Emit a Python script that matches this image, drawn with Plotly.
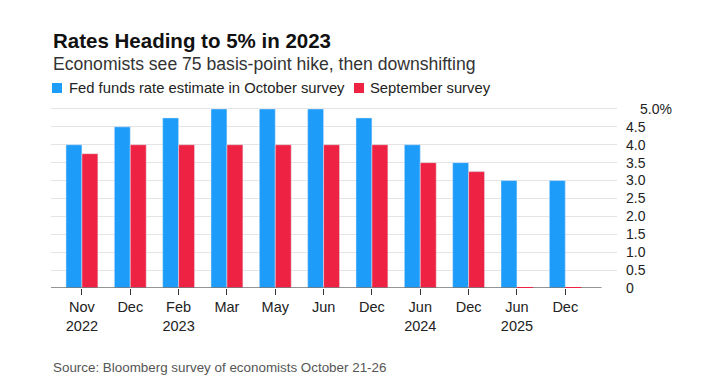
import plotly.graph_objects as go

categories = ["Nov 2022", "Dec 2022", "Feb 2023", "Mar 2023", "May 2023", "Jun 2023",
              "Dec 2023", "Jun 2024", "Dec 2024", "Jun 2025", "Dec 2025"]
tick_labels = ["Nov<br>2022", "Dec", "Feb<br>2023", "Mar", "May", "Jun", "Dec",
               "Jun<br>2024", "Dec", "Jun<br>2025", "Dec"]
october = [4.0, 4.5, 4.75, 5.0, 5.0, 5.0, 4.75, 4.0, 3.5, 3.0, 3.0]
september = [3.75, 4.0, 4.0, 4.0, 4.0, 4.0, 4.0, 3.5, 3.25, 0, 0]
y_ticks = [0, 0.5, 1.0, 1.5, 2.0, 2.5, 3.0, 3.5, 4.0, 4.5, 5.0]
y_ticktext = ["0", "0.5", "1.0", "1.5", "2.0", "2.5", "3.0", "3.5", "4.0", "4.5", ""]

BLUE = "#1E9CFA"
RED = "#EE2242"
FONT = "Liberation Sans, Arial, sans-serif"

OFF = 8  # page body margin
W, H = 702 - OFF, 391 - OFF
L = 51 - OFF
PR = 617 - OFF
T = 100 - OFF
PB = 288 - OFF
R = W - PR
B = H - PB
pw = PR - L
ph = PB - T

def px(x):
    return (x - OFF - L) / pw

def py(y):
    return (PB - (y - OFF)) / ph

idx = list(range(len(categories)))

fig = go.Figure()
fig.add_bar(x=idx, y=october, marker_color=BLUE, name="Fed funds rate estimate in October survey")
fig.add_bar(x=idx, y=september, marker_color=RED, name="September survey")

bargap = 0.34
bar_w = (1 - bargap) / 2

fig.add_shape(type="line", x0=-0.64, x1=len(categories) - 0.25, y0=0, y1=0,
              line=dict(color="#707070", width=1.5), layer="above")

for i, v in zip(idx, september):
    if v == 0:
        fig.add_shape(type="line", x0=i, x1=i + bar_w, y0=0, y1=0,
                      line=dict(color=RED, width=2), layer="above")

fig.update_layout(
    width=W, height=H,
    margin=dict(l=L, r=R, t=T, b=B),
    paper_bgcolor="white", plot_bgcolor="white",
    barmode="group", bargap=bargap, bargroupgap=0,
    showlegend=False,
    font=dict(family=FONT, size=14, color="#222222"),
)
fig.update_xaxes(
    range=[-0.64, 11.07], tickmode="array", tickvals=idx, ticktext=tick_labels,
    ticks="outside", ticklen=6, tickcolor="#333333", showgrid=False, showline=False,
    zeroline=False, tickfont=dict(size=14.5, color="#222222"),
)
fig.update_yaxes(
    range=[0, 5.25], side="right", tickvals=y_ticks, ticktext=y_ticktext,
    showgrid=True, gridcolor="#E4E4E4", gridwidth=1, zeroline=False, ticks="",
    ticklabelstandoff=8, tickfont=dict(size=14, color="#222222"),
)

ann = [
    dict(text="<b>Rates Heading to 5% in 2023</b>", x=px(51), y=py(40), size=20.5, color="#111111"),
    dict(text="Economists see 75 basis-point hike, then downshifting", x=px(51), y=py(64), size=17.6, color="#333333"),
    dict(text="Fed funds rate estimate in October survey", x=px(67), y=py(88), size=14.8, color="#222222"),
    dict(text="September survey", x=px(368), y=py(88), size=14.8, color="#222222"),
    dict(text="Source: Bloomberg survey of economists October 21-26", x=px(51), y=py(367), size=13.4, color="#555555"),
]
for a in ann:
    fig.add_annotation(text=a["text"], x=a["x"], y=a["y"], xref="paper", yref="paper",
                       xanchor="left", yanchor="middle", showarrow=False,
                       font=dict(family=FONT, size=a["size"], color=a["color"]))

fig.add_annotation(text="5.0%", x=px(638), y=5.0, xref="paper", yref="y",
                   xanchor="left", yanchor="middle", showarrow=False,
                   font=dict(family=FONT, size=14, color="#222222"))

for x0, col in [(52, BLUE), (354, RED)]:
    fig.add_shape(type="rect", xref="paper", yref="paper",
                  x0=px(x0), x1=px(x0 + 10), y0=py(93), y1=py(83),
                  fillcolor=col, line=dict(width=0))

fig.write_html("out.html")
